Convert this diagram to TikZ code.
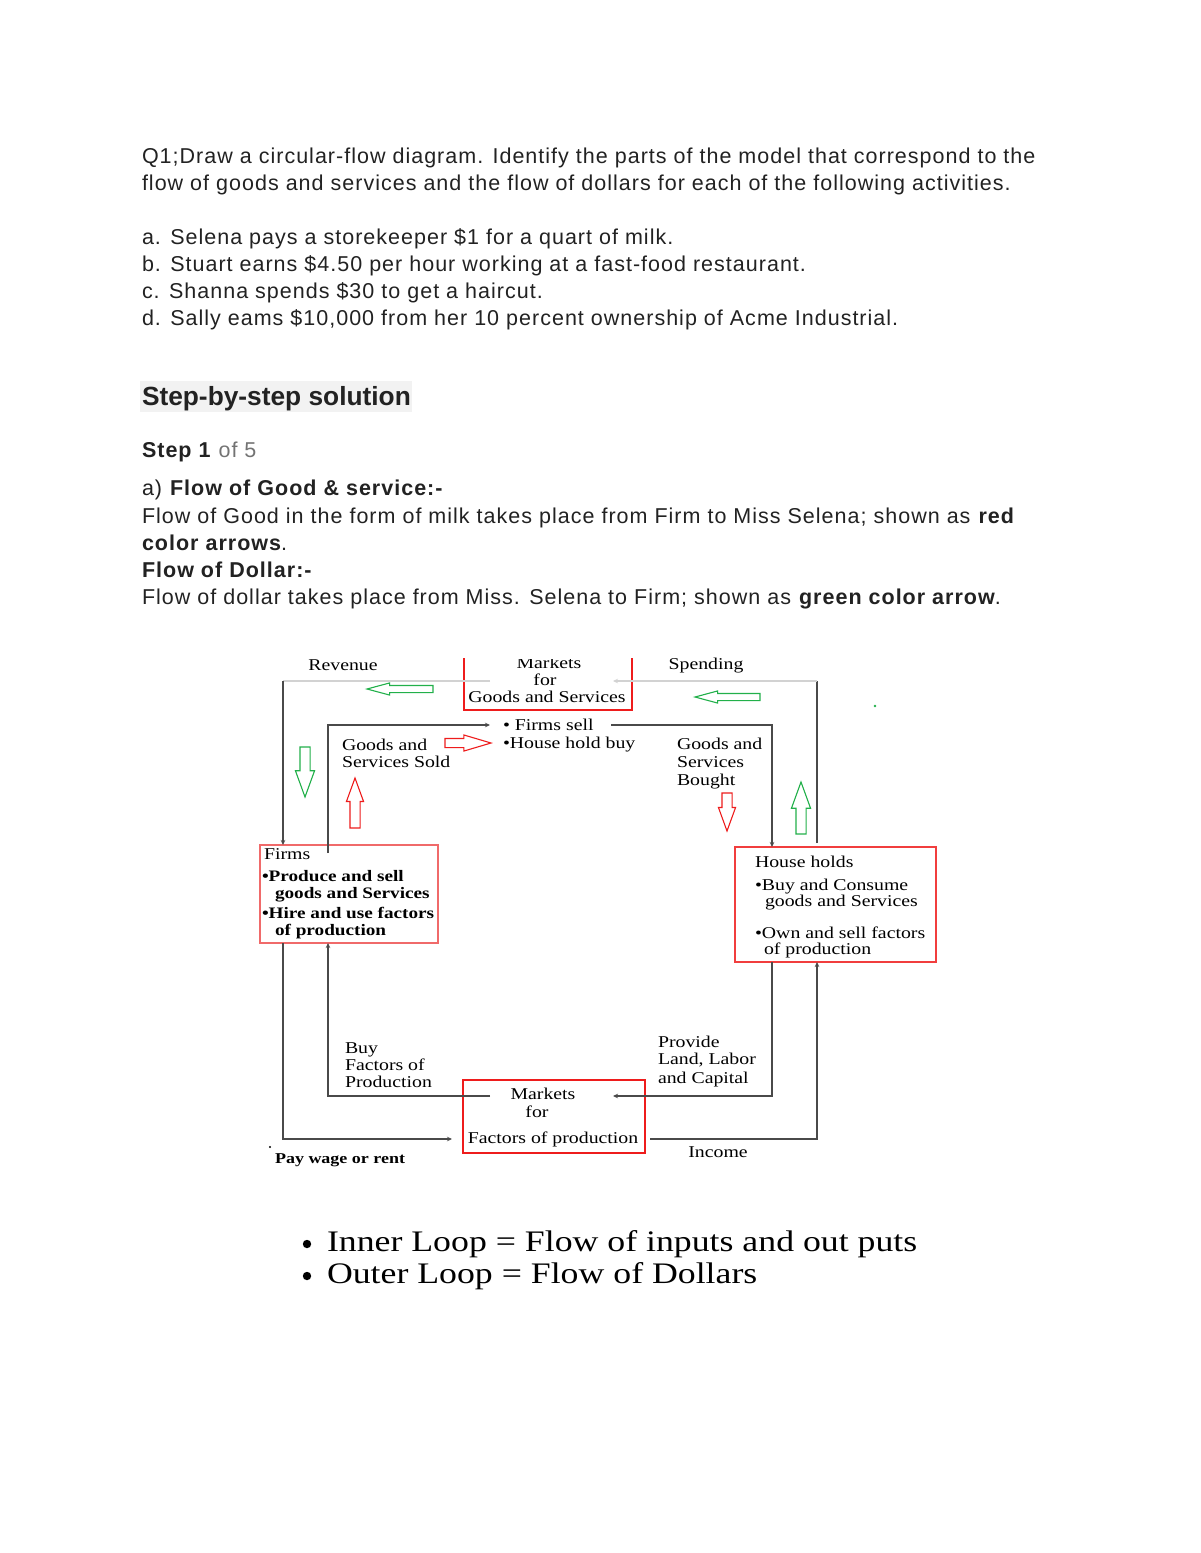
\documentclass[tikz,border=0pt]{standalone}
\usepackage{fontspec}
\setmainfont{Liberation Sans}[LetterSpace=4.7]
\newfontfamily\hfont{Liberation Sans}
\newfontfamily\dfont[FakeStretch=1.2]{Liberation Serif}
\usetikzlibrary{shapes.arrows,arrows.meta}
\definecolor{txt}{HTML}{222222}
\definecolor{gred}{HTML}{EE1C1C}
\definecolor{fred}{HTML}{F06A6A}
\definecolor{ggreen}{HTML}{22B04A}
\definecolor{lgray}{HTML}{D2D2D2}
\definecolor{hgray}{HTML}{F2F2F2}
\definecolor{dgray}{HTML}{4A4A4A}
\begin{document}
\begin{tikzpicture}[x=1pt,y=-1pt,
 every node/.style={inner sep=0pt,outer sep=0pt},
 ptext/.style={anchor=base west,font=\fontsize{21.5}{26}\selectfont,text=txt},
 dtext/.style={anchor=base west,font=\dfont\fontsize{16.5}{18}\selectfont,text=black},
 dbold/.style={anchor=base west,font=\dfont\bfseries\fontsize{16}{18}\selectfont,text=black},
 redbox/.style={draw=gred,line width=1.2pt},
 outerline/.style={draw=dgray,line width=1.6pt},
 innerline/.style={draw=dgray,line width=1.1pt},
 lightline/.style={draw=lgray,line width=1.6pt},
 tip/.style={-{Stealth[length=5pt,width=4.5pt]}},
 harrow/.style={single arrow,draw,line width=1.1pt,inner xsep=0pt,inner ysep=3pt,minimum width=0pt,single arrow head extend=2.5pt,single arrow tip angle=30,anchor=tail},
 varrow/.style={single arrow,draw,line width=1.1pt,inner xsep=0pt,inner ysep=4.5pt,minimum width=0pt,single arrow head extend=4.5pt,single arrow tip angle=40,anchor=tail},
]
\fill[white] (0,0) rectangle (1200,1553);
\useasboundingbox (0,0) rectangle (1200,1553);

% ---------- question text ----------
\node[ptext] (q1) at (142,163) {Q1;Draw a circular-flow diagram. Identify the parts of the model that correspond to the};
\node[ptext] (q2) at (142,190) {flow of goods and services and the flow of dollars for each of the following activities.};
\node[ptext] (qa) at (142,244) {a. Selena pays a storekeeper \$1 for a quart of milk.};
\node[ptext] (qb) at (142,271) {b. Stuart earns \$4.50 per hour working at a fast-food restaurant.};
\node[ptext] (qc) at (142,298) {c. Shanna spends \$30 to get a haircut.};
\node[ptext] (qd) at (142,325) {d. Sally eams \$10,000 from her 10 percent ownership of Acme Industrial.};

\fill[hgray] (140,381) rectangle (412,412);
\node[ptext,font=\hfont\bfseries\fontsize{26.3}{30}\selectfont] (head) at (142,405) {Step-by-step solution};
\node[ptext] (s1) at (142,457) {\textbf{Step 1} \textcolor{black!55}{of 5}};
\node[ptext] (s2) at (142,495) {a) \textbf{Flow of Good \& service:-}};
\node[ptext] (s3) at (142,523) {Flow of Good in the form of milk takes place from Firm to Miss Selena; shown as \textbf{red}};
\node[ptext] (s4) at (142,550) {\textbf{color arrows}.};
\node[ptext] (s5) at (142,577) {\textbf{Flow of Dollar:-}};
\node[ptext] (s6) at (142,604) {Flow of dollar takes place from Miss. Selena to Firm; shown as \textbf{green color arrow}.};

% ---------- boxes ----------
\node[minimum width=168pt,minimum height=52pt] (mgs) at (548,684) {};
\draw[redbox] (mgs.north west) -- (mgs.south west) -- (mgs.south east) -- (mgs.north east);
\node[draw=fred,line width=1.1pt,minimum width=178pt,minimum height=98pt] (firms) at (349,894) {};
\node[draw=gred!85!white,line width=1.2pt,minimum width=201pt,minimum height=115pt] (hh) at (835.5,904.5) {};
\node[draw=gred,line width=1.8pt,minimum width=182pt,minimum height=73pt] (mfp) at (554,1116.5) {};

% ---------- outer loop (dollars) ----------
\coordinate (otl) at (283,681);
\coordinate (otr) at (817,681);
\coordinate (obl) at (283,1139);
\coordinate (obr) at (817,1139);
\coordinate (mgsL) at (490,681);
\coordinate (mgsR) at (613,681);
\coordinate (hhTop) at (817,843);
\coordinate (mfpL) at (452,1139);
\coordinate (mfpR) at (650,1139);
\draw[lightline] (mgsL) -- (otl);
\draw[outerline,tip] (otl) -- (firms.north -| otl);
\draw[outerline] (hhTop) -- (otr);
\draw[lightline,tip] (otr) -- (mgsR);
\draw[outerline,tip] (firms.south -| obl) -- (obl) -- (mfpL);
\draw[outerline,tip] (mfpR) -- (obr) -- (hh.south -| obr);

% ---------- inner loop (goods / factors) ----------
\coordinate (itl) at (328,725);
\coordinate (itr) at (772,725);
\coordinate (ibl) at (328,1096);
\coordinate (ibr) at (772,1096);
\coordinate (msL) at (490,725);
\coordinate (msR) at (611,725);
\coordinate (mfL) at (490,1096);
\coordinate (mfR) at (613,1096);
\coordinate (fIn) at (328,853);
\draw[innerline,tip] (fIn) -- (itl) -- (msL);
\draw[innerline,tip] (msR) -- (itr) -- (hh.north -| itr);
\draw[innerline,tip] (hh.south -| ibr) -- (ibr) -- (mfR);
\draw[innerline,tip] (mfL) -- (ibl) -- (firms.south -| ibl);

% ---------- block arrows ----------
\node[harrow,draw=ggreen,minimum height=66pt,rotate=180] (ga1) at (433,689) {};
\node[harrow,draw=ggreen,minimum height=65pt,rotate=180] (ga2) at (760,697) {};
\node[harrow,draw=gred,minimum height=46pt,inner ysep=4pt,single arrow head extend=3.5pt,single arrow tip angle=33] (ra1) at (445,743) {};
\node[varrow,draw=ggreen,minimum height=50pt,rotate=270] (ga3) at (305,747) {};
\node[varrow,draw=gred,minimum height=50pt,single arrow head extend=3.5pt,rotate=90] (ra2) at (355,828) {};
\node[varrow,draw=gred,minimum height=38pt,single arrow head extend=3.5pt,rotate=270] (ra3) at (727,793) {};
\node[varrow,draw=ggreen,minimum height=52pt,rotate=90] (ga4) at (801,834) {};

\fill[ggreen] (875,706) circle (1.3);
\fill[black] (270,1147) circle (1.2);

% ---------- labels ----------
\begin{scope}
\clip (464,659) rectangle (632,710);
\node[dtext,anchor=base] (mk1) at (549,668) {Markets};
\end{scope}
\node[dtext,anchor=base] (mk2) at (545,685) {for};
\node[dtext,anchor=base] (mk3) at (547,702) {Goods and Services};
\node[dtext,anchor=base] (rev) at (343,670) {Revenue};
\node[dtext,anchor=base] (spd) at (706,669) {Spending};
\node[dtext] (fs) at (503,730) {\textbullet\ Firms sell};
\node[dtext] (hb) at (503,748) {\textbullet House hold buy};
\node[dtext] (gss) at (342,750) {Goods and};
\node[dtext] (gss2) at (342,767) {Services Sold};
\node[dtext] (gsb1) at (677,749) {Goods and};
\node[dtext] (gsb2) at (677,767) {Services};
\node[dtext] (gsb3) at (677,785) {Bought};

\node[dtext] (f0) at (264,859) {Firms};
\node[dbold] (f1) at (262,881) {\textbullet Produce and sell};
\node[dbold] (f2) at (275,898) {goods and Services};
\node[dbold] (f3) at (262,918) {\textbullet Hire and use factors};
\node[dbold] (f4) at (275,935) {of production};

\node[dtext] (h0) at (755,867) {House holds};
\node[dtext] (h1) at (755,890) {\textbullet Buy and Consume};
\node[dtext] (h2) at (765,906) {goods and Services};
\node[dtext] (h3) at (755,938) {\textbullet Own and sell factors};
\node[dtext] (h4) at (764,954) {of production};

\node[dtext] (b1) at (345,1053) {Buy};
\node[dtext] (b2) at (345,1070) {Factors of};
\node[dtext] (b3) at (345,1087) {Production};
\node[dtext] (p1) at (658,1047) {Provide};
\node[dtext] (p2) at (658,1064) {Land, Labor};
\node[dtext] (p3) at (658,1083) {and Capital};

\node[dtext,anchor=base] (mf1) at (543,1099) {Markets};
\node[dtext,anchor=base] (mf2) at (537,1117) {for};
\node[dtext,anchor=base] (mf3) at (553,1143) {Factors of production};
\node[dtext,anchor=base] (inc) at (718,1157) {Income};
\node[dbold,font=\dfont\bfseries\fontsize{15}{17}\selectfont] (pay) at (275,1163) {Pay wage or rent};

% ---------- legend ----------
\fill[black] (307,1244) circle (4.2);
\fill[black] (307,1276) circle (4.2);
\node[dtext,font=\dfont\fontsize{29.8}{32}\selectfont] (l1) at (327,1251) {Inner Loop = Flow of inputs and out puts};
\node[dtext,font=\dfont\fontsize{29.8}{32}\selectfont] (l2) at (327,1283) {Outer Loop = Flow of Dollars};
\end{tikzpicture}
\end{document}
